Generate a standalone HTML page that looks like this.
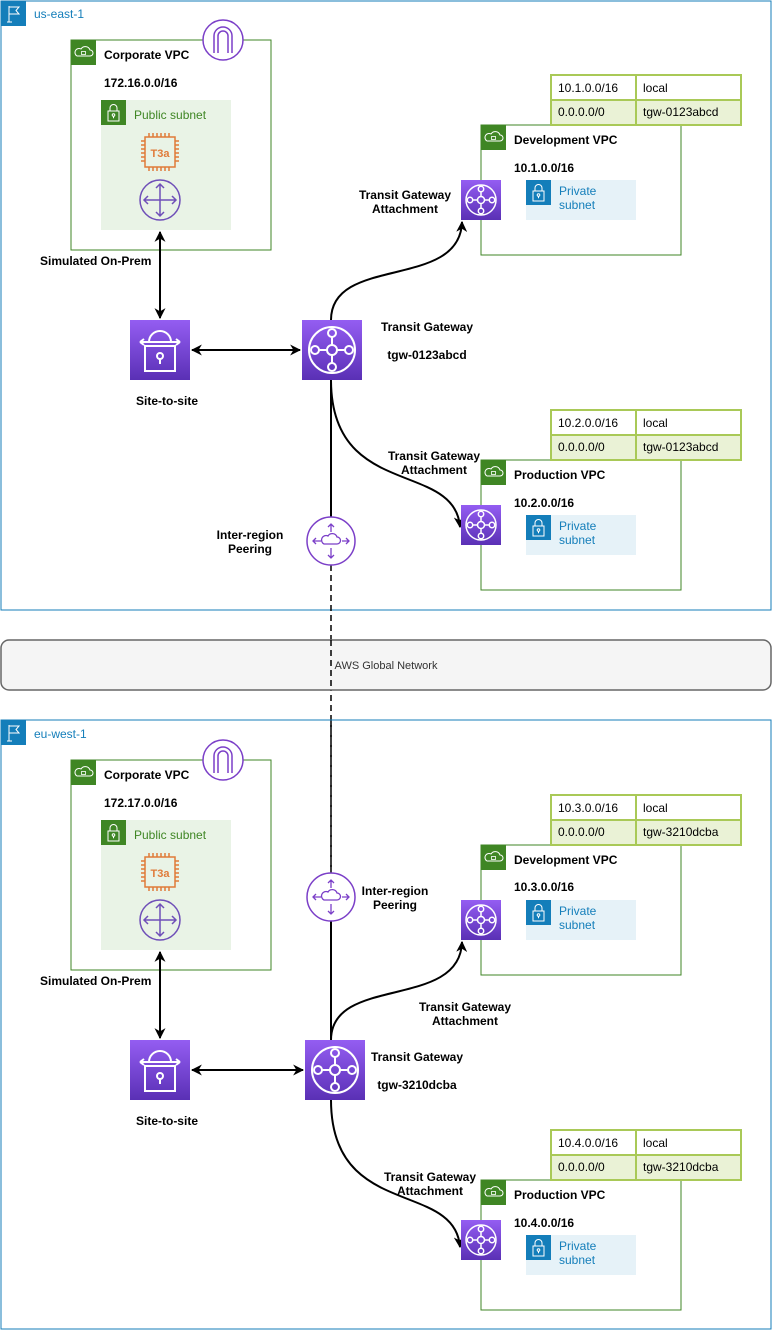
<!DOCTYPE html>
<html><head><meta charset="utf-8"><style>
html,body{margin:0;padding:0;background:#fff}
svg{display:block}
text{font-family:"Liberation Sans",Arial,sans-serif}
.b{font-weight:bold;font-size:12px;fill:#000}
.n{font-size:12px;fill:#000}
</style></head><body>
<svg width="772" height="1331" viewBox="0 0 772 1331" xmlns="http://www.w3.org/2000/svg">
<defs>
<linearGradient id="pg" x1="0" y1="0" x2="0" y2="1"><stop offset="0" stop-color="#945df2"/><stop offset="1" stop-color="#5a30b5"/></linearGradient>
<marker id="ar" viewBox="0 0 10 10" refX="9" refY="5" markerWidth="11" markerHeight="11" orient="auto-start-reverse" markerUnits="userSpaceOnUse"><path d="M0,0 L10,5 L0,10 L3,5z" fill="#000"/></marker>
<g id="tgw"><rect width="60" height="60" fill="url(#pg)"/><g fill="none" stroke="#fff" stroke-width="2"><circle cx="30" cy="30" r="23"/><circle cx="30" cy="30" r="5"/><circle cx="30" cy="13" r="4"/><circle cx="30" cy="47" r="4"/><circle cx="13" cy="30" r="4"/><circle cx="47" cy="30" r="4"/><path d="M30 17V25M30 35V43M17 30H25M35 30H43"/></g></g>
<g id="att"><rect width="40" height="40" fill="url(#pg)"/><g fill="none" stroke="#fff" stroke-width="1.5"><circle cx="20" cy="20" r="15"/><circle cx="20" cy="20" r="3.5"/><circle cx="20" cy="9" r="2.7"/><circle cx="20" cy="31" r="2.7"/><circle cx="9" cy="20" r="2.7"/><circle cx="31" cy="20" r="2.7"/><path d="M20 12V16.5M20 23.5V28M12 20H16.5M23.5 20H28"/></g></g>
<g id="s2s"><rect width="60" height="60" fill="url(#pg)"/><g fill="none" stroke="#fff" stroke-width="2"><path d="M19 22a11 11 0 0 1 22 0"/><rect x="15" y="26" width="30" height="25"/><path d="M10 22H50M10 22l4-3M10 22l4 3M50 22l-4-3M50 22l-4 3"/><circle cx="30" cy="36" r="3"/><path d="M30 39v5"/></g></g>
<g id="vpci"><rect width="25" height="25" fill="#3f8624"/><path d="M6 16h13a3 3 0 0 0 0-6a5 5 0 0 0-9-1a3.5 3.5 0 0 0-4 7z" fill="none" stroke="#fff" stroke-width="1"/><rect x="10.5" y="11.5" width="4" height="3" fill="none" stroke="#fff" stroke-width=".8"/></g>
<g id="pubi"><rect width="25" height="25" fill="#3f8624"/><g fill="none" stroke="#fff" stroke-width="1"><rect x="7" y="11" width="11" height="10"/><path d="M9 11V8a3.5 3.5 0 0 1 7 0v3"/><circle cx="12.5" cy="15" r="1.3"/><path d="M12.5 16.3v2"/></g></g>
<g id="prii"><rect width="25" height="25" fill="#147eba"/><g fill="none" stroke="#fff" stroke-width="1"><rect x="7" y="11" width="11" height="10"/><path d="M9 11V8a3.5 3.5 0 0 1 7 0v3"/><circle cx="12.5" cy="15" r="1.3"/><path d="M12.5 16.3v2"/></g></g>
<g id="flag"><rect width="25" height="25" fill="#147eba"/><path d="M8 5v16M6 21h5M8 6h10l-3 3.5l3 3.5H8" fill="none" stroke="#fff" stroke-width="1"/></g>
<g id="corp">
<rect x="71" y="40" width="200" height="210" fill="#fff" stroke="#3f8624"/>
<use href="#vpci" x="71" y="40"/>
<rect x="101" y="100" width="130" height="130" fill="#e9f3e6"/>
<use href="#pubi" x="101" y="100"/>
<text x="134" y="119" font-size="12" fill="#3f8624">Public subnet</text>
<g fill="none" stroke="#e07b39" stroke-width="1.5"><rect x="145" y="137" width="30" height="30"/><path d="M149 137v-4M153 137v-4M157 137v-4M161 137v-4M165 137v-4M169 137v-4M149 167v4M153 167v4M157 167v4M161 167v4M165 167v4M169 167v4M145 141h-4M145 145h-4M145 149h-4M145 153h-4M145 157h-4M145 161h-4M175 141h4M175 145h4M175 149h4M175 153h4M175 157h4M175 161h4"/></g>
<text x="160" y="157" font-size="11" fill="#e07b39" text-anchor="middle" font-weight="bold">T3a</text>
<g fill="none" stroke="#6f4fb8" stroke-width="1.5"><circle cx="160" cy="200" r="20"/><path d="M160 184v32M144 200h32M156 188l4-4l4 4M156 212l4 4l4-4M148 196l-4 4l4 4M172 196l4 4l-4 4"/></g>
<circle cx="223" cy="40" r="20" fill="#fff" stroke="#7b3fc8" stroke-width="1.5"/>
<path d="M214 53V36a9 9 0 0 1 18 0v17M218 53V36a5 5 0 0 1 10 0v17" fill="none" stroke="#7b3fc8" stroke-width="1.5"/>
<path d="M160 232V318" stroke="#000" stroke-width="2" marker-start="url(#ar)" marker-end="url(#ar)"/>
<text x="40" y="265" class="b">Simulated On-Prem</text>
<use href="#s2s" x="130" y="320"/>
<text x="167" y="405" class="b" text-anchor="middle">Site-to-site</text>
</g>
<g id="peer"><circle r="24" fill="#fff" stroke="#7b3fc8" stroke-width="1.5"/><g fill="none" stroke="#7b3fc8" stroke-width="1.3"><path d="M-7 3h13a3.5 3.5 0 0 0 0-7a5 5 0 0 0-9-1a4 4 0 0 0-4 8z"/><path d="M0-9v-8M-3-14l3-3l3 3M0 7v10M-3 14l3 3l3-3M-10 0h-8M-15-3l-3 3l3 3M11 0h7M15-3l3 3l-3 3"/></g></g>
<g id="vpc">
<rect x="0" y="50" width="200" height="130" fill="#fff" stroke="#3f8624"/>
<use href="#vpci" x="0" y="50"/>
<rect x="45" y="105" width="110" height="40" fill="#e6f2f8"/>
<use href="#prii" x="45" y="105"/>
<text x="78" y="120" font-size="12" fill="#147eba">Private</text>
<text x="78" y="134" font-size="12" fill="#147eba">subnet</text>
<rect x="70" y="0" width="190" height="50" fill="#fff" stroke="#a9c957" stroke-width="2"/>
<rect x="71" y="25" width="188" height="24" fill="#eaf2d6"/>
<path d="M70 25H260M155 0V50" stroke="#a9c957" stroke-width="2"/>
</g>
</defs>

<!-- us-east-1 -->
<rect x="1" y="1" width="770" height="609" fill="#fff" stroke="#147eba"/>
<use href="#flag" x="1" y="1"/>
<text x="34" y="18" font-size="12" fill="#147eba">us-east-1</text>
<use href="#corp"/>
<text x="104" y="59" class="b">Corporate VPC</text>
<text x="104" y="87" class="b">172.16.0.0/16</text>
<path d="M192 350H300" stroke="#000" stroke-width="2" marker-start="url(#ar)" marker-end="url(#ar)"/>

<use href="#vpc" x="481" y="75"/>
<text x="558" y="92" class="n">10.1.0.0/16</text><text x="643" y="92" class="n">local</text>
<text x="558" y="116" class="n">0.0.0.0/0</text><text x="643" y="116" class="n">tgw-0123abcd</text>
<text x="514" y="144" class="b">Development VPC</text>
<text x="514" y="172" class="b">10.1.0.0/16</text>
<use href="#vpc" x="481" y="410"/>
<text x="558" y="427" class="n">10.2.0.0/16</text><text x="643" y="427" class="n">local</text>
<text x="558" y="451" class="n">0.0.0.0/0</text><text x="643" y="451" class="n">tgw-0123abcd</text>
<text x="514" y="479" class="b">Production VPC</text>
<text x="514" y="507" class="b">10.2.0.0/16</text>

<path d="M331 320C331 255 460 290 462 222" fill="none" stroke="#000" stroke-width="2" marker-end="url(#ar)"/>
<path d="M331 380C331 500 455 460 460 527" fill="none" stroke="#000" stroke-width="2" marker-end="url(#ar)"/>
<path d="M331 380V517" stroke="#000" stroke-width="2"/>
<path d="M331 565V873" stroke="#000" stroke-width="1.5" stroke-dasharray="6,4"/>
<use href="#att" x="461" y="180"/>
<use href="#att" x="461" y="505"/>
<use href="#tgw" x="302" y="320"/>
<use href="#peer" x="331" y="541"/>
<text x="405" y="199" class="b" text-anchor="middle">Transit Gateway</text>
<text x="405" y="213" class="b" text-anchor="middle">Attachment</text>
<text x="427" y="331" class="b" text-anchor="middle">Transit Gateway</text>
<text x="427" y="359" class="b" text-anchor="middle">tgw-0123abcd</text>
<text x="434" y="460" class="b" text-anchor="middle">Transit Gateway</text>
<text x="434" y="474" class="b" text-anchor="middle">Attachment</text>
<text x="250" y="539" class="b" text-anchor="middle">Inter-region</text>
<text x="250" y="553" class="b" text-anchor="middle">Peering</text>

<!-- global network -->
<rect x="1" y="640" width="770" height="50" rx="8" fill="#f5f5f5" stroke="#666" stroke-width="1.5"/>
<path d="M331 640V690" stroke="#000" stroke-width="1.5" stroke-dasharray="6,4"/>
<text x="386" y="669" font-size="11" fill="#333" text-anchor="middle">AWS Global Network</text>

<!-- eu-west-1 -->
<rect x="1" y="720" width="770" height="609" fill="none" stroke="#147eba"/>
<use href="#flag" x="1" y="720"/>
<text x="34" y="738" font-size="12" fill="#147eba">eu-west-1</text>
<path d="M331 721V873" stroke="#000" stroke-width="1.5" stroke-dasharray="6,4"/>
<use href="#corp" y="720"/>
<text x="104" y="779" class="b">Corporate VPC</text>
<text x="104" y="807" class="b">172.17.0.0/16</text>
<path d="M192 1070H303" stroke="#000" stroke-width="2" marker-start="url(#ar)" marker-end="url(#ar)"/>

<use href="#vpc" x="481" y="795"/>
<text x="558" y="812" class="n">10.3.0.0/16</text><text x="643" y="812" class="n">local</text>
<text x="558" y="836" class="n">0.0.0.0/0</text><text x="643" y="836" class="n">tgw-3210dcba</text>
<text x="514" y="864" class="b">Development VPC</text>
<text x="514" y="891" class="b">10.3.0.0/16</text>
<use href="#vpc" x="481" y="1130"/>
<text x="558" y="1147" class="n">10.4.0.0/16</text><text x="643" y="1147" class="n">local</text>
<text x="558" y="1171" class="n">0.0.0.0/0</text><text x="643" y="1171" class="n">tgw-3210dcba</text>
<text x="514" y="1199" class="b">Production VPC</text>
<text x="514" y="1227" class="b">10.4.0.0/16</text>

<path d="M331 919V1040" stroke="#000" stroke-width="2"/>
<path d="M331 1040C331 975 460 1010 462 942" fill="none" stroke="#000" stroke-width="2" marker-end="url(#ar)"/>
<path d="M331 1100C331 1220 455 1180 460 1247" fill="none" stroke="#000" stroke-width="2" marker-end="url(#ar)"/>
<use href="#att" x="461" y="900"/>
<use href="#att" x="461" y="1220"/>
<use href="#tgw" x="305" y="1040"/>
<use href="#peer" x="331" y="897"/>
<text x="395" y="895" class="b" text-anchor="middle">Inter-region</text>
<text x="395" y="909" class="b" text-anchor="middle">Peering</text>
<text x="465" y="1011" class="b" text-anchor="middle">Transit Gateway</text>
<text x="465" y="1025" class="b" text-anchor="middle">Attachment</text>
<text x="417" y="1061" class="b" text-anchor="middle">Transit Gateway</text>
<text x="417" y="1089" class="b" text-anchor="middle">tgw-3210dcba</text>
<text x="430" y="1181" class="b" text-anchor="middle">Transit Gateway</text>
<text x="430" y="1195" class="b" text-anchor="middle">Attachment</text>
</svg>
</body></html>
